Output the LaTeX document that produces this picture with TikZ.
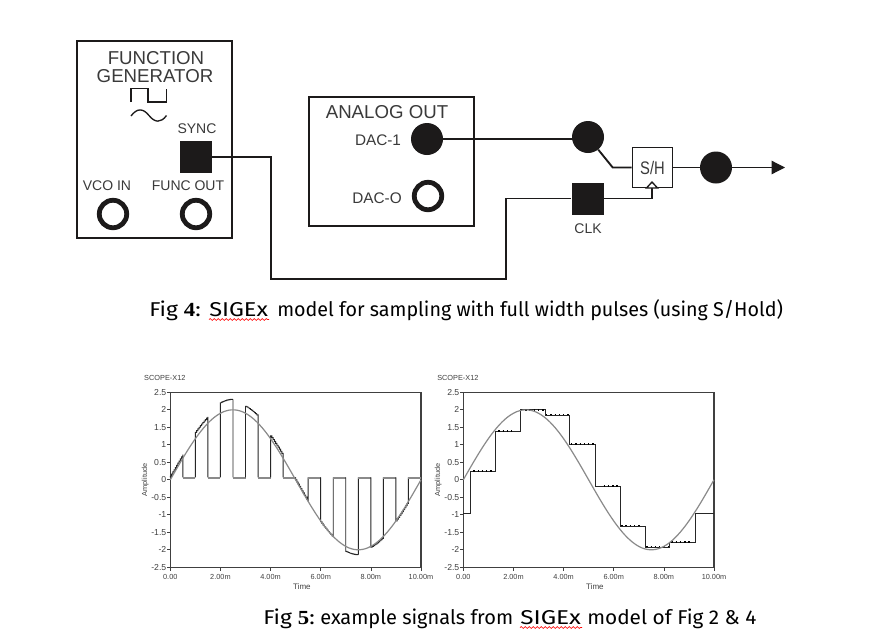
\documentclass[tikz,border=0pt]{standalone}
\usepackage{fontspec}
\setmainfont{Liberation Sans}
\newfontfamily\capfont{Fira Sans}
\newfontfamily\numfont{Liberation Serif}
\usetikzlibrary{calc,arrows.meta,decorations.pathmorphing}
\definecolor{inkblack}{HTML}{1C1A1A}
\definecolor{labelgrey}{HTML}{3A3A3A}
\definecolor{tracegrey}{HTML}{8A8A8A}
\tikzset{
  panel/.style={draw=inkblack, line width=1.6pt, fill=white, inner sep=0pt},
  jackdot/.style={circle, fill=inkblack, inner sep=0pt, minimum size=24pt},
  jackring/.style={circle, draw=inkblack, line width=3.6pt, fill=white, inner sep=0pt, minimum size=20.6pt},
  jacksq/.style={rectangle, fill=inkblack, inner sep=0pt, minimum size=24pt},
  wire/.style={draw=inkblack, line width=1.4pt},
  wirebold/.style={draw=inkblack, line width=2pt},
  panellabel/.style={text=labelgrey, font=\fontsize{10.5}{10.5}\selectfont, inner sep=0pt},
  paneltitle/.style={text=labelgrey, font=\fontsize{14}{14}\selectfont, inner sep=0pt},
  caption/.style={text=black, font=\capfont\fontsize{15}{15}\selectfont, inner sep=0pt, anchor=base west},
  spell/.style={draw=red, line width=0.5pt, decorate, decoration={snake, amplitude=0.7pt, segment length=3pt}},
  tick/.style={draw=black!75, line width=0.5pt},
  ticklabel/.style={text=black!75, font=\fontsize{5.5}{5.5}\selectfont, inner sep=0pt},
  sineline/.style={draw=tracegrey, line width=0.9pt},
  sampleline/.style={draw=black!85, line width=0.7pt},
  noiseline/.style={draw=black, line width=1.1pt, dash pattern=on 1pt off 2.2pt}
}
% frame, ticks and labels of one scope plot, origin at (0,0) of the scope
\newcommand{\plotframe}{
  \draw[tick, line width=0.8pt] (0,-2.5) rectangle (10,2.5);
  \foreach \v/\t in {2.5/2.5,2/2,1.5/1.5,1/1,0.5/0.5,0/0,-0.5/-0.5,-1/-1,-1.5/-1.5,-2/-2,-2.5/-2.5}
    \draw[tick] (0,\v) -- (-0.12,\v) node[ticklabel, font=\fontsize{6.5}{6.5}\selectfont, anchor=east, xshift=-0.5pt] {\t};
  \foreach \u/\t in {0/0.00,2/2.00m,4/4.00m,6/6.00m,8/8.00m,10/10.00m}
    \draw[tick] (\u,-2.5) -- (\u,-2.6) node[ticklabel, anchor=north, yshift=-2.2pt] {\t};
  \node[ticklabel, font=\fontsize{6}{6}\selectfont] (timelab) at (5.25,-3.06) {Time};
  \node[ticklabel, rotate=90] (amplab) at (-1,0) {Amplitude};
  \node[ticklabel, anchor=west] (scopelab) at (-1.05,2.91) {SCOPE-X12};
}
\newcommand{\capwide}[2]{\scalebox{#1}[1]{#2}}
\begin{document}
\begin{tikzpicture}[x=0.75pt, y=-0.75pt, line cap=butt, line join=miter]
    \useasboundingbox[fill=white] (0,0) rectangle (887,643);

    % Function generator panel
    \draw[panel] (77,41) rectangle (232,238);
    \node[paneltitle] (fgtop) at (156,58) {FUNCTION};
    \node[paneltitle] (fgbot) at (155,76) {GENERATOR};
    \draw[draw=inkblack, line width=1pt] (131,102) -- (131,88.5) -- (148,88.5) -- (148,102) -- (166.5,102) -- (166.5,88.5);
    \draw[draw=inkblack, line width=1pt] (131,116) .. controls (137,108) and (143,108) .. (149,115.5) .. controls (155,123) and (161,123) .. (166.5,115.5);
    \node[panellabel] (synclab) at (197,129) {SYNC};
    \node[jacksq] (sync) at (196,157) {};
    \node[panellabel] (vcolab) at (107,186) {VCO IN};
    \node[panellabel] (funclab) at (188,186) {FUNC OUT};
    \node[jackring] (vco) at (113,214) {};
    \node[jackring] (func) at (196,214) {};

    % Analog output panel
    \draw[panel] (309,97) rectangle (474,226);
    \node[paneltitle] (aotitle) at (387,112) {ANALOG OUT};
    \node[panellabel, font=\fontsize{11.5}{11.5}\selectfont] (dac1lab) at (378,140) {DAC-1};
    \node[panellabel, font=\fontsize{11.5}{11.5}\selectfont] (dac0lab) at (377,198) {DAC-O};
    \node[jackdot] (dac1) at (427,139) {};
    \node[jackring] (dac0) at (428,196) {};

    % Sample and hold with its sockets
    \node[draw=inkblack, line width=1.4pt, fill=white, minimum size=30pt, inner sep=0pt, text=labelgrey, font=\fontsize{13}{13}\selectfont] (sh) at (652.5,167.5) {\scalebox{0.85}[1.05]{S/H}};
    \node[jackdot] (inp) at (588,137) {};
    \node[jacksq] (clk) at (587.5,198.5) {};
    \node[panellabel] (clklab) at (588,229) {CLK};
    \node[jackdot] (outp) at (716,167.5) {};
    \coordinate (bend) at (612.7,167.5);
    \coordinate (clkin) at (652,188);
    \coordinate (arrowend) at (785,167.5);

    % Connectors
    \draw[wire] (sync.east) -- (271,157) -- (271,279) -- (506,279) -- (506,198.5) -- (clk.west);
    \draw[wirebold] (dac1.east) -- (dac1.east -| inp);
    \draw[wire] (inp) -- (bend) -- (sh.west);
    \draw[wire] (clk.east) -| (clkin);
    \draw[wire] (sh.east) -- (outp.west);
    \draw[draw=inkblack, line width=0.9pt, -{Triangle[length=10pt,width=10pt]}] (outp.east) -- (arrowend);
    \draw[draw=inkblack, line width=1pt, fill=white] (646.5,188) -- (652,182) -- (657.5,188) -- cycle;

    % Captions, the flagged word set apart for its underline
    \node[caption] (fig4a) at (149,316) {\capwide{1.14}{Fig {\numfont\bfseries 4}:}};
    \node[caption] (fig4b) at (209,316) {\capwide{1.18}{SIGEx}};
    \node[caption] (fig4c) at (277,316) {\capwide{0.985}{model for sampling with full width pulses (using S/Hold)}};
    \node[caption] (fig5a) at (263,624) {\capwide{1.14}{Fig {\numfont\bfseries 5}:}};
    \node[caption] (fig5b) at (320,624) {example signals from};
    \node[caption] (fig5c) at (520,624) {\capwide{1.22}{SIGEx}};
    \node[caption] (fig5d) at (587,624) {\capwide{1.04}{model of Fig 2 \& 4}};
    \draw[spell] ($(fig4b.base west)+(0,3.5)$) -- ($(fig4b.base west)+(60,3.5)$);
    \draw[spell] ($(fig5c.base west)+(0,3.5)$) -- ($(fig5c.base west)+(62,3.5)$);

    % Left plot: gated sine
    \begin{scope}[shift={(170.3,479.8)}, x=18.8pt, y=26.25pt]
      \plotframe
      \foreach \a/\off in {0/0.1,1/0.18,2/0.3,3/0.2,4/0.08,5/0,6/-0.02,7/-0.14,8/-0.02,9/0}{
        \draw[sampleline] (\a,0.07) -- plot[const plot, domain=\a:\a+0.5, samples=11] (\x,{2*sin(36*\x)+\off}) -- (\a+0.5,0.07);
        \draw[tracegrey, line width=1.1pt] (\a+0.5,0.05) -- (\a+1,0.05);
      }
      \draw[sineline] plot[domain=0:10, samples=91] (\x,{2*sin(36*\x)});
    \end{scope}

    % Right plot: held sine
    \begin{scope}[shift={(463.3,479.8)}, x=18.8pt, y=26.25pt]
      \plotframe
      \draw[sampleline] (0,-0.95) -- (0.28,-0.95) -- (0.28,0.23) -- (1.27,0.23) -- (1.27,1.37) -- (2.27,1.37) -- (2.27,2) -- (3.28,2) -- (3.28,1.85) -- (4.25,1.85) -- (4.25,1) -- (5.26,1) -- (5.26,-0.2) -- (6.25,-0.2) -- (6.25,-1.32) -- (7.25,-1.32) -- (7.25,-1.93) -- (8.24,-1.93) -- (8.24,-1.8) -- (9.25,-1.8) -- (9.25,-0.95) -- (10,-0.95);
      \foreach \a/\b/\v in {0.4/1.2/0.25,1.4/1.95/1.39,2.3/3.25/2,3.3/4.2/1.87,4.3/5.2/1.02,5.6/6.2/-0.18,6.3/7.1/-1.3,7.3/8.2/-1.91,8.3/9.1/-1.78}
        \draw[noiseline] (\a,\v) -- (\b,\v);
      \draw[sineline] plot[domain=0:10, samples=91] (\x,{2*sin(36*\x)});
    \end{scope}
\end{tikzpicture}
\end{document}
